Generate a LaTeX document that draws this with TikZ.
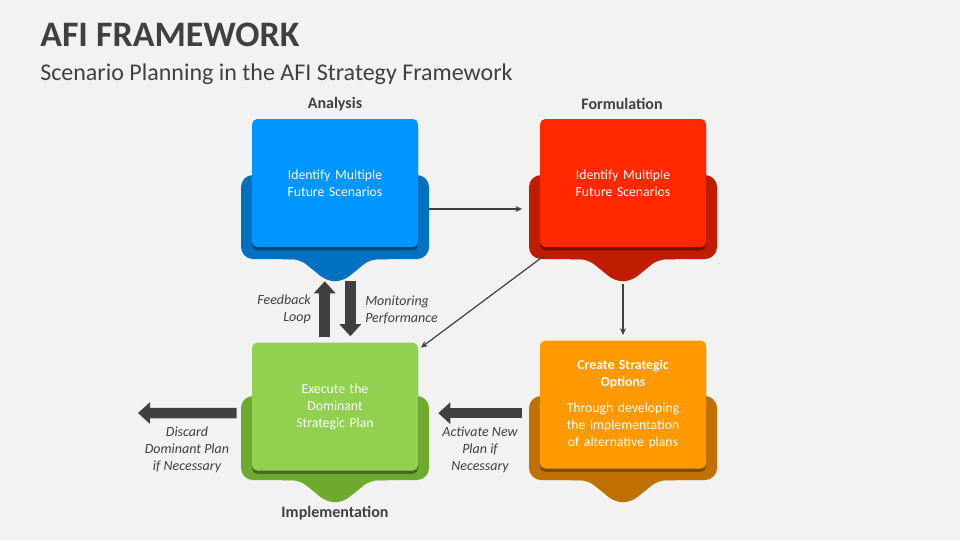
\documentclass[tikz,border=0pt]{standalone}
\usepackage{fontspec}
\setmainfont{Carlito}
\usetikzlibrary{arrows.meta,shadows}
\definecolor{bgcol}{HTML}{F2F2F2}
\definecolor{ink}{HTML}{404040}
\definecolor{bluefront}{HTML}{0096FF}
\definecolor{blueback}{HTML}{0070C0}
\definecolor{redfront}{HTML}{FF2800}
\definecolor{redback}{HTML}{C01C00}
\definecolor{greenfront}{HTML}{92D050}
\definecolor{greenback}{HTML}{6EAA2E}
\definecolor{orangefront}{HTML}{FF9900}
\definecolor{orangeback}{HTML}{C07000}
\begin{document}
\begin{tikzpicture}[x=0.75pt,y=-0.75pt,
backbox/.style={rounded corners=9pt,minimum width=141pt,minimum height=63pt,inner sep=0pt},
frontbox/.style={rounded corners=4pt,minimum width=124.5pt,minimum height=96pt,text width=118pt,
  align=center,text=white,inner sep=0pt,font=\fontsize{10.3}{12.75}\selectfont},
heading/.style={text=ink,font=\bfseries\fontsize{12}{14}\selectfont},
note/.style={text=ink,inner sep=0pt,font=\itshape\fontsize{10.5}{12.75}\selectfont},
link/.style={draw=ink,line width=0.9pt,-{Stealth[length=5pt,width=4.5pt]}},
fat/.style={draw=ink,line width=7.9pt,-{Triangle[length=9pt,width=15.75pt]}}]
\useasboundingbox (0,0) rectangle (960,540);
\fill[bgcol] (0,0) rectangle (960,540);

\node[anchor=base west,inner sep=0pt,text=ink,font=\bfseries\fontsize{26.9}{30}\selectfont] (title) at (40,46) {AFI FRAMEWORK};
\node[anchor=base west,inner sep=0pt,text=ink,font=\fontsize{18}{20}\selectfont] (subtitle) at (40,80) {Scenario Planning in the AFI Strategy Framework};

\foreach \nm/\px/\py/\col in {ana/335/217/blue,form/623/217/red,impl/335/438/green,strat/623/438/orange}
{
\node[backbox,fill=\col back] (\nm back) at (\px,\py) {};
\fill[\col back,rounded corners=6pt] (\nm back.south) ++(-60,-8) -- ++(0,8) -- ++(25,0) -- ++(27,22)
  -- ++(16,0) -- ++(27,-22) -- ++(25,0) -- ++(0,-8) -- cycle;
\path (\nm back.south) ++(0,22) coordinate (\nm tip);
}

\node[frontbox,fill=bluefront,drop shadow={shadow xshift=0pt,shadow yshift=-2.5pt,fill=bluefront!45!black,opacity=1}] (ana) at (335,183) {Identify Multiple\\Future Scenarios};
\node[frontbox,fill=redfront,drop shadow={shadow xshift=0pt,shadow yshift=-2.5pt,fill=redfront!45!black,opacity=1}] (form) at (623,183) {Identify Multiple\\Future Scenarios};
\node[frontbox,fill=greenfront,drop shadow={shadow xshift=0pt,shadow yshift=-2.5pt,fill=greenfront!50!black,opacity=1}] (exec) at (335,406.5) {Execute the\\Dominant\\Strategic Plan};
\node[frontbox,fill=orangefront,drop shadow={shadow xshift=0pt,shadow yshift=-2.5pt,fill=orangefront!50!black,opacity=1}] (strat) at (623,404.5) {\textbf{Create Strategic}\\\textbf{Options}\\[6.75pt]Through developing\\the implementation\\of alternative plans};

\node[heading] (analabel) at (335,104) {Analysis};
\node[heading] (formlabel) at (622,104) {Formulation};
\node[heading] (impllabel) at (335,513) {Implementation};

\node[note,anchor=east,align=right] (fbnote) at (311,309.5) {Feedback\\Loop};
\node[note,anchor=west,align=left] (monnote) at (365,309.5) {Monitoring\\Performance};
\node[note,align=center] (actnote) at (480,450) {Activate New\\Plan if\\Necessary};
\node[note,align=center] (dropnote) at (187,450) {Discard\\Dominant Plan\\if Necessary};

\draw[link,shorten >=5pt] ([yshift=6pt]anaback.east) -- ([yshift=6pt]formback.west);
\draw[link] ([xshift=12pt,yshift=3pt]formback.south west) -- ([xshift=2pt,yshift=-4pt]exec.north east);
\draw[link,shorten <=2.25pt,shorten >=4pt] (formtip) -- (strat.north);

\coordinate (upfoot) at ([xshift=-7.7pt]exec.north);
\coordinate (downfoot) at ([xshift=11.5pt]exec.north);
\draw[fat,shorten <=3.75pt] (upfoot) -- (upfoot |- anatip);
\draw[fat,shorten >=4.5pt] (downfoot |- anatip) -- (downfoot);

\coordinate (midrow) at ([yshift=-5pt]exec.east);
\coordinate (dropend) at (138,413);
\draw[fat,shorten <=5pt,shorten >=15pt] (stratback.west |- midrow) -- (midrow);
\draw[fat,shorten <=3pt] (implback.west |- midrow) -- (dropend);
\end{tikzpicture}
\end{document}
